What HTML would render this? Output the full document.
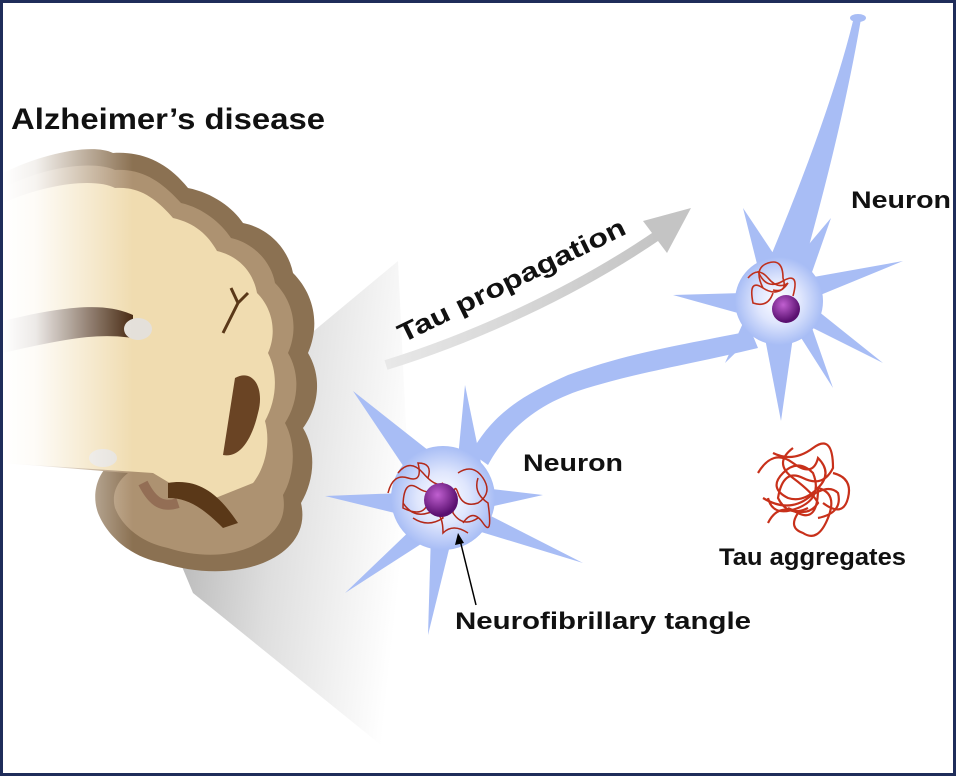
<!DOCTYPE html>
<html><head><meta charset="utf-8"><style>
body{margin:0;background:#fff}
.f{position:absolute;left:0;top:0;width:956px;height:776px;box-sizing:border-box;border:3px solid #1f2d5a;overflow:hidden;background:#fff}
text{font-family:"Liberation Sans",Arial,sans-serif;font-weight:bold;fill:#111}
</style></head><body><div class="f">
<svg width="956" height="776" viewBox="0 0 956 776">
<defs>
<linearGradient id="wedge" x1="0" y1="0" x2="1" y2="0.2">
<stop offset="0" stop-color="#8a8a8a"/><stop offset="0.55" stop-color="#d6d6d6"/><stop offset="1" stop-color="#fff"/></linearGradient>
<linearGradient id="fadeL" x1="0" x2="1"><stop offset="0" stop-color="#fff" stop-opacity="1"/><stop offset="0.25" stop-color="#fff" stop-opacity="0.9"/><stop offset="1" stop-color="#fff" stop-opacity="0"/></linearGradient>
<radialGradient id="cell" cx="0.5" cy="0.5" r="0.5"><stop offset="0" stop-color="#ffffff"/><stop offset="0.5" stop-color="#dfe6fd"/><stop offset="1" stop-color="#a8bdf5"/></radialGradient>
<radialGradient id="nuc" cx="0.4" cy="0.35" r="0.6"><stop offset="0" stop-color="#c060d0"/><stop offset="1" stop-color="#5a1070"/></radialGradient>
<linearGradient id="arr" x1="0" x2="1"><stop offset="0" stop-color="#e8e8e8"/><stop offset="1" stop-color="#c4c4c4"/></linearGradient>
</defs>
<polygon points="140,470 395,258 420,776 190,590" fill="url(#wedge)" opacity="0.8"/>
<!-- brain -->
<path d="M0,170 C40,150 90,140 110,150 C140,148 165,160 185,185 C210,190 230,205 240,220 C265,225 285,245 290,270 C310,290 318,320 305,350 C320,375 315,405 300,425 C315,450 310,480 298,500 C305,530 285,550 260,560 C230,572 190,570 160,560 C130,555 105,535 95,510 C88,490 95,470 108,460 L0,455 Z" fill="#8b7152"/>
<path d="M0,185 C45,162 92,158 112,167 C140,165 160,180 178,200 C200,205 218,220 228,235 C250,240 268,258 272,280 C290,298 296,325 285,350 C298,372 295,400 282,420 C295,445 290,475 280,492 C285,520 268,535 245,545 C220,555 190,553 165,545 C140,540 120,525 112,505 C108,490 115,478 125,470 L0,460 Z" fill="#ad9271"/>
<path d="M0,200 C50,178 95,176 112,185 C138,183 155,198 170,215 C192,220 205,232 214,248 C235,253 250,268 254,290 C270,306 274,330 265,350 C276,372 273,398 262,418 C268,440 262,465 250,480 L200,500 L150,470 L0,460 Z" fill="#f0dcb0"/>
<path d="M0,318 C80,298 110,303 130,312 L130,335 C95,330 65,335 0,350 Z" fill="#4a2c14"/>
<ellipse cx="135" cy="326" rx="14" ry="11" fill="#e4e0da"/>
<path d="M232,375 C250,365 262,385 255,410 C248,440 235,455 220,452 Z" fill="#6a4424"/>
<path d="M165,480 C195,475 215,490 235,520 L220,525 C200,505 185,495 165,495 Z" fill="#5a3818"/>
<path d="M220,330 L235,300 M235,300 L228,285 M235,300 L245,290" stroke="#5a3818" stroke-width="3" fill="none"/>
<ellipse cx="100" cy="455" rx="14" ry="9" fill="#e4e0da"/>
<path d="M140,480 C150,500 160,505 175,500" stroke="#7a4a3a" stroke-width="10" fill="none" opacity="0.5"/>
<rect x="0" y="130" width="130" height="440" fill="url(#fadeL)"/>
<!-- arrow -->
<path d="M383,362 C470,335 570,290 655,232" stroke="url(#arr)" stroke-width="10" fill="none"/>
<polygon points="640,218 688,205 664,250" fill="#c4c4c4"/>
<!-- neuron 2 -->
<g fill="#a8bdf5">
<path d="M765,260 C790,200 830,100 850,18 L858,16 C840,120 815,210 800,265 Z"/>
<ellipse cx="855" cy="15" rx="8" ry="4"/>
<path d="M740,290 L670,292 L742,312 Z"/><path d="M760,325 L778,418 L792,320 Z"/>
<path d="M800,320 L880,360 L805,300 Z"/><path d="M805,275 L900,258 L810,295 Z"/>
<path d="M755,265 L740,205 L778,262 Z"/><path d="M790,260 L828,215 L808,272 Z"/>
<path d="M740,320 L722,360 L758,325 Z"/><path d="M795,330 L830,385 L808,322 Z"/>
<path d="M748,328 C660,345 620,352 565,372 C520,392 490,410 468,450 L485,462 C505,425 535,402 575,388 C630,370 685,362 755,345 Z"/>
</g>
<circle cx="776" cy="298" r="44" fill="url(#cell)"/>
<g stroke="#c0301c" stroke-width="1.6" fill="none"><path d="M745,275 q10,-12 20,0 t20,5 q-10,15 -25,5 t-10,15 q15,5 20,-10"/><path d="M755,268 q8,20 25,10 t10,15"/><path d="M760,285 q-10,-20 5,-25 t15,15 q5,15 -10,12"/></g>
<circle cx="783" cy="306" r="14" fill="url(#nuc)"/>
<!-- neuron 1 -->
<g fill="#a8bdf5">
<path d="M405,470 L350,388 L435,455 Z"/><path d="M455,455 L462,382 L478,460 Z"/>
<path d="M400,490 L322,493 L400,512 Z"/><path d="M415,520 L342,590 L432,532 Z"/>
<path d="M428,530 L425,632 L450,530 Z"/><path d="M465,525 L580,560 L478,508 Z"/>
<path d="M480,485 L540,492 L482,505 Z"/>
</g>
<circle cx="440" cy="495" r="52" fill="url(#cell)"/>
<g stroke="#b32818" stroke-width="1.5" fill="none">
<path d="M395,470 q12,-15 25,0 t20,10 q-10,15 -25,5 t-15,20 q20,10 25,-5 t15,15 q-15,10 -30,0"/>
<path d="M455,470 q15,-10 25,5 t-5,25 q-15,5 -20,-10 t-5,20 q10,15 25,5"/>
<path d="M400,500 q10,15 25,10 t15,20 q10,-10 25,0"/>
<path d="M385,490 q5,-20 20,-15 t10,-15 q15,0 10,15 M460,520 q10,-15 20,0 t5,-20 q-15,-10 -10,-25"/>
</g>
<circle cx="438" cy="497" r="17" fill="url(#nuc)"/>
<!-- tau aggregates -->
<g stroke="#c8301a" stroke-width="2.2" fill="none">
<path d="M755,470 q15,-25 35,-10 t25,-5 q15,15 0,30 t-30,10 q-20,-10 -5,-25 t30,0 q10,25 -15,35 t-30,-10"/>
<path d="M770,450 q20,10 40,-5 t20,20 q-10,20 -30,10 t-25,20 q10,20 30,10"/>
<path d="M760,495 q25,15 45,0 t30,-5 q5,20 -20,25"/>
<path d="M765,520 q10,-20 30,-10 t20,-25 q20,5 10,30 t-25,15 q-15,-5 -5,-20"/>
<path d="M790,445 q-20,15 0,30 t25,25 q-10,15 -30,5 M830,470 q20,5 15,25 t-25,5"/>
</g>
<text x="8" y="126" font-size="30" textLength="314" lengthAdjust="spacingAndGlyphs">Alzheimer’s disease</text>
<text x="848" y="205" font-size="24" textLength="100" lengthAdjust="spacingAndGlyphs">Neuron</text>
<text x="520" y="468" font-size="24" textLength="100" lengthAdjust="spacingAndGlyphs">Neuron</text>
<text x="716" y="562" font-size="24" textLength="187" lengthAdjust="spacingAndGlyphs">Tau aggregates</text>
<text x="452" y="626" font-size="24" textLength="296" lengthAdjust="spacingAndGlyphs">Neurofibrillary tangle</text>
<text transform="translate(400,340) rotate(-26)" font-size="26" textLength="250" lengthAdjust="spacingAndGlyphs">Tau propagation</text>
<line x1="473" y1="602" x2="457" y2="537" stroke="#000" stroke-width="1.5"/>
<polygon points="455,530 452,542 461,540" fill="#000"/>
</svg></div></body></html>
